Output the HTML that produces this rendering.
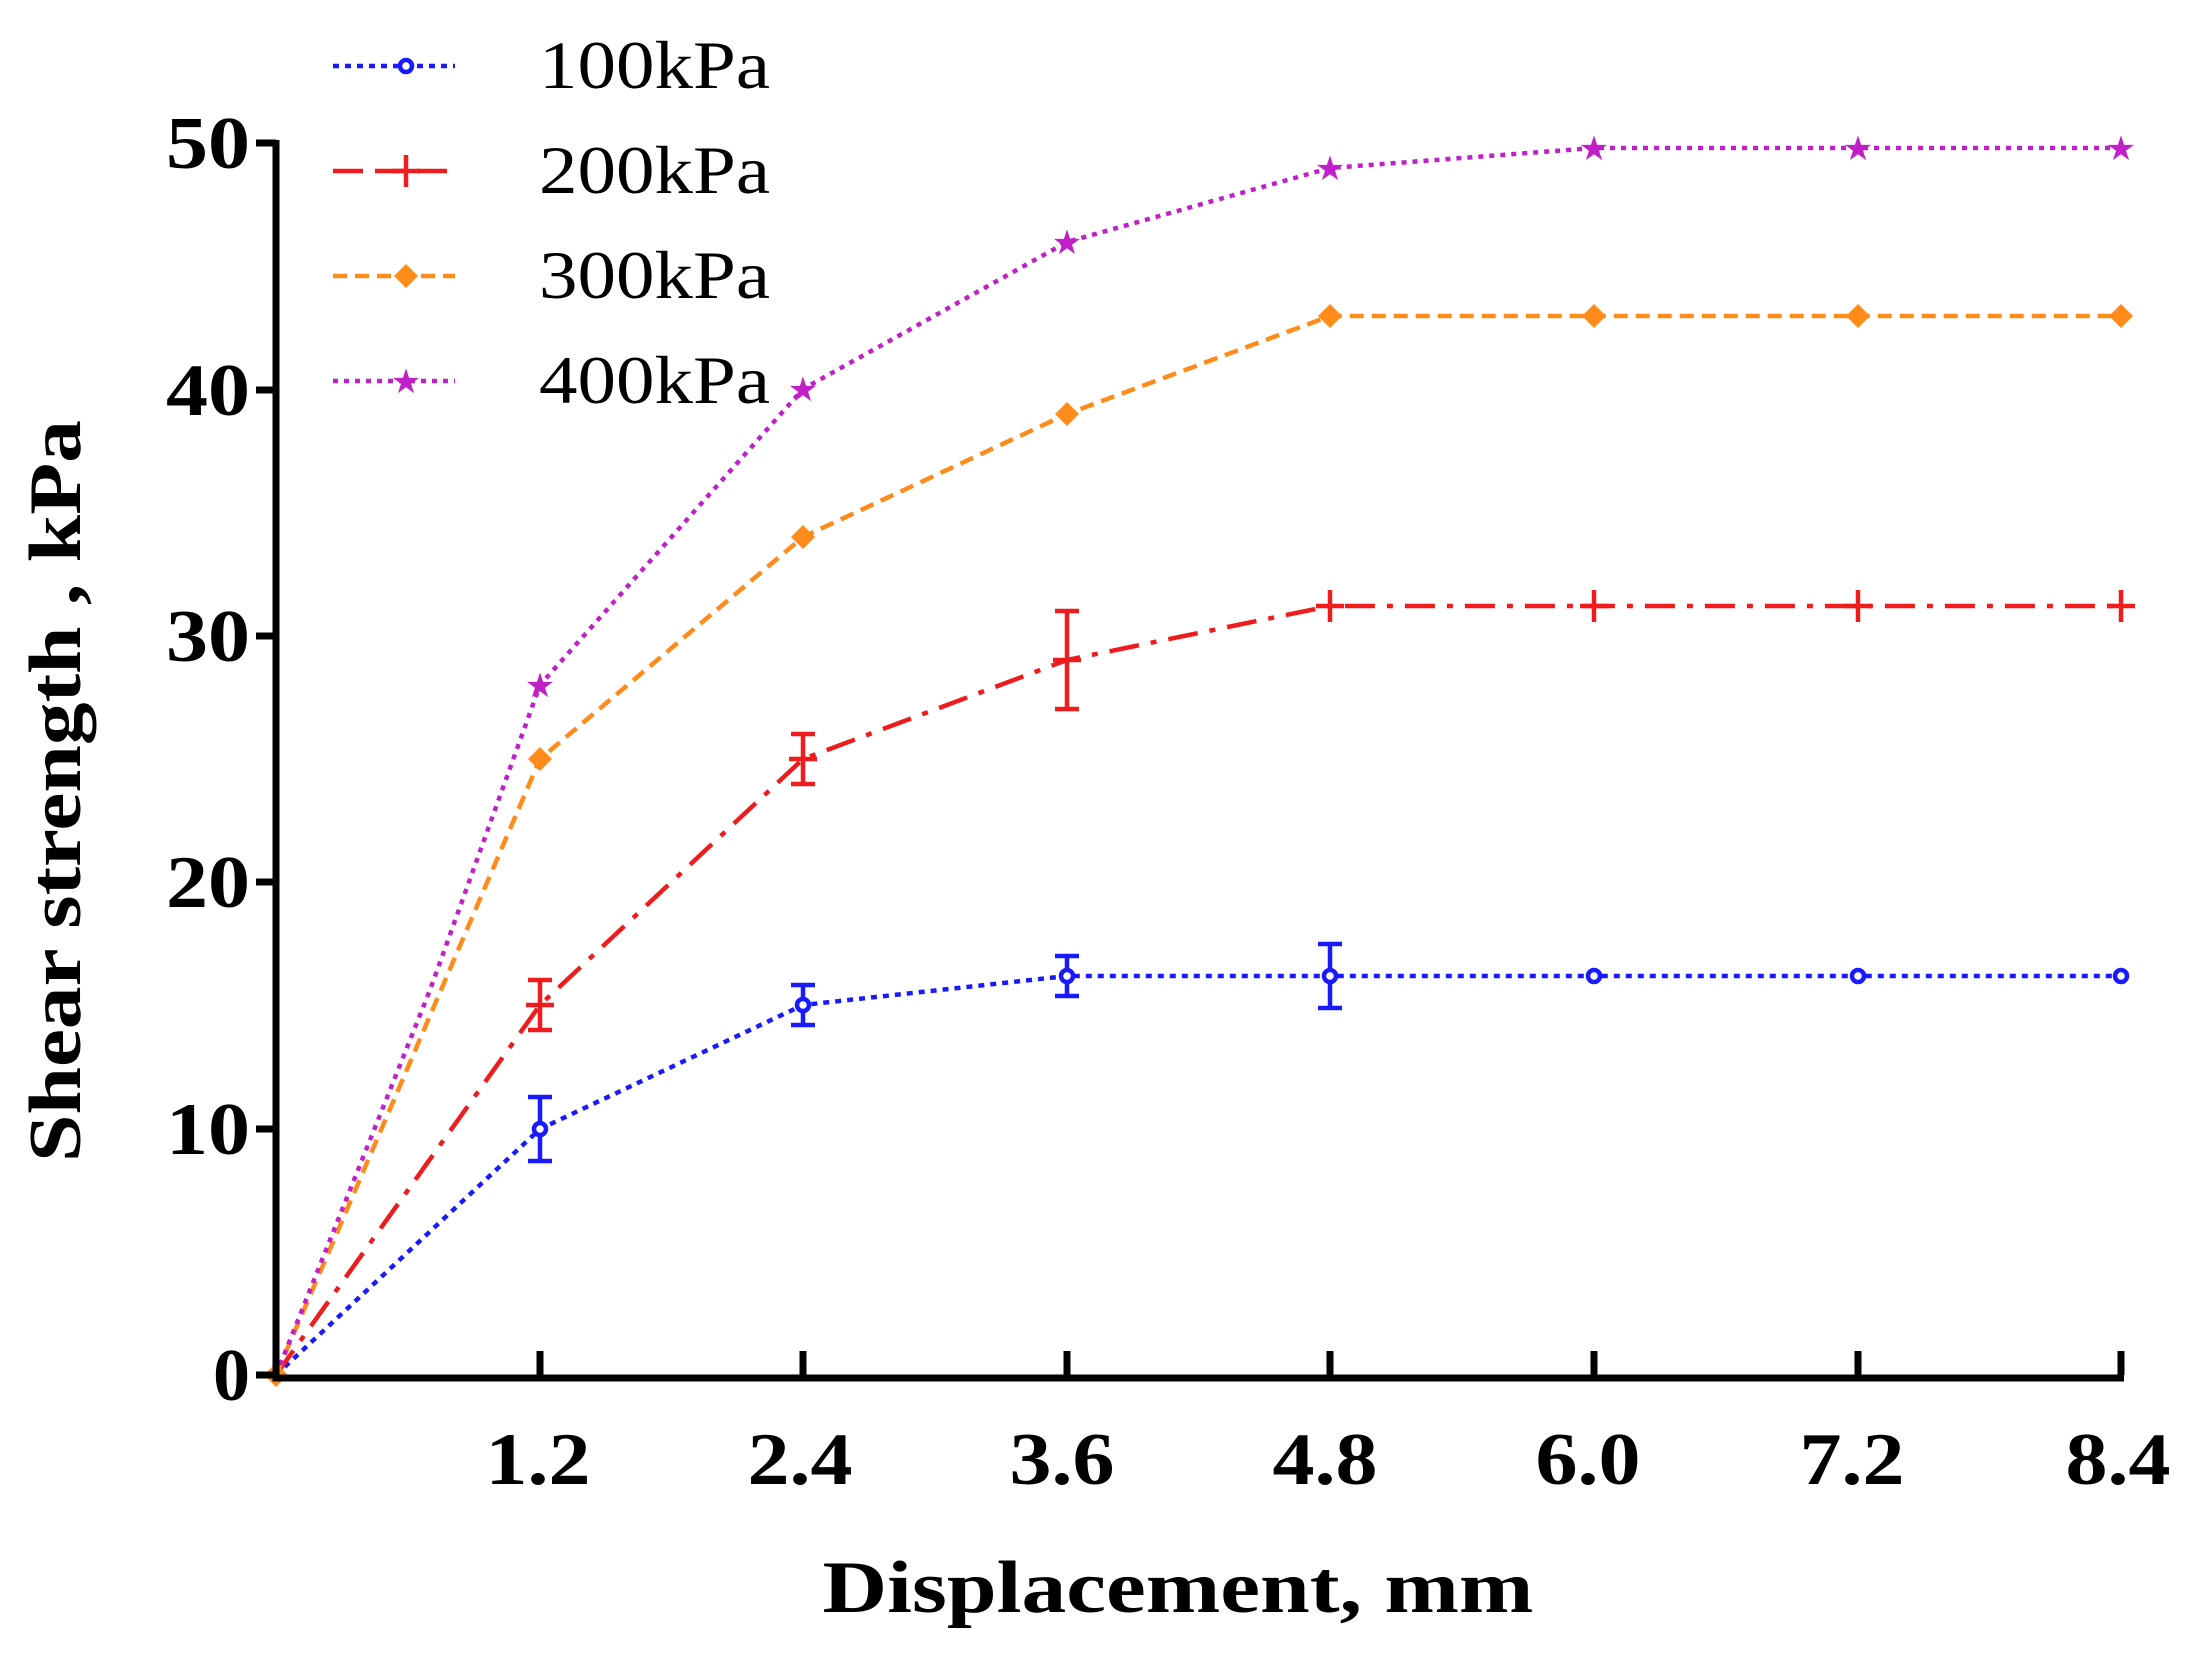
<!DOCTYPE html>
<html><head><style>body{margin:0;background:#fff}svg{display:block}</style></head><body>
<svg width="2196" height="1656" xmlns="http://www.w3.org/2000/svg" font-family="Liberation Serif, serif">
<rect width="2196" height="1656" fill="#fff"/>
<g stroke="#1a1aff" stroke-width="4.5" fill="none">
<polyline stroke-dasharray="6,6" points="276,1375 540,1129 803,1005 1067,976 1330,976 1594,976 1858,976 2121,976"/>
<path d="M540,1097V1161M528,1097h24M528,1161h24M803,985V1025M791,985h24M791,1025h24M1067,956V996M1055,956h24M1055,996h24M1330,944V1008M1318,944h24M1318,1008h24"/>
<g fill="#fff"><circle cx="540" cy="1129" r="6"/><circle cx="803" cy="1005" r="6"/><circle cx="1067" cy="976" r="6"/><circle cx="1330" cy="976" r="6"/><circle cx="1594" cy="976" r="6"/><circle cx="1858" cy="976" r="6"/><circle cx="2121" cy="976" r="6"/></g>
</g>
<g stroke="#ee1c1c" stroke-width="4.5" fill="none">
<polyline stroke-dasharray="30,12,6,12" points="276,1375 540,1005 803,759 1067,660 1330,606 1594,606 1858,606 2121,606"/>
<path d="M540,980V1030M528,980h24M528,1030h24M526,1005h28M803,734V784M791,734h24M791,784h24M789,759h28M1067,611V709M1055,611h24M1055,709h24M1053,660h28M1330,590V622M1316,606h28M1594,590V622M1580,606h28M1858,590V622M1844,606h28M2121,590V622M2107,606h28"/>
</g>
<g stroke="#ff8c1a" stroke-width="4.5" fill="none">
<polyline stroke-dasharray="14,8" points="276,1375 540,759 803,537 1067,414 1330,316 1594,316 1858,316 2121,316"/>
<g fill="#ff8c1a" stroke="none">
<path d="M540,747l12,12l-12,12l-12,-12z"/><path d="M803,525l12,12l-12,12l-12,-12z"/><path d="M1067,402l12,12l-12,12l-12,-12z"/><path d="M1330,304l12,12l-12,12l-12,-12z"/><path d="M1594,304l12,12l-12,12l-12,-12z"/><path d="M1858,304l12,12l-12,12l-12,-12z"/><path d="M2121,304l12,12l-12,12l-12,-12z"/><path d="M276,1363l12,12l-12,12l-12,-12z"/></g>
</g>
<g stroke="#c020c8" stroke-width="4.5" fill="none">
<polyline stroke-dasharray="5,6" points="276,1375 430,990 540,685 803,389 1067,242 1330,168 1594,148 1858,148 2121,148"/>
<g fill="#c020c8" stroke="none" font-size="34" text-anchor="middle">
<text x="540" y="697">★</text><text x="803" y="401">★</text><text x="1067" y="254">★</text><text x="1330" y="180">★</text><text x="1594" y="160">★</text><text x="1858" y="160">★</text><text x="2121" y="160">★</text></g>
</g>
<g stroke="#000" stroke-width="7" fill="none">
<path d="M276,140V1378H2124"/>
<path d="M276,1375h-20M276,1129h-20M276,882h-20M276,636h-20M276,390h-20M276,143h-20"/>
<path d="M540,1375v-24M803,1375v-24M1067,1375v-24M1330,1375v-24M1594,1375v-24M1858,1375v-24M2121,1375v-24"/>
</g>
<g font-size="74" font-weight="bold" fill="#000" text-anchor="end" lengthAdjust="spacingAndGlyphs">
<text x="250" y="1400">0</text>
<text x="250" y="1154" textLength="84" lengthAdjust="spacingAndGlyphs">10</text>
<text x="250" y="907" textLength="84" lengthAdjust="spacingAndGlyphs">20</text>
<text x="250" y="661" textLength="84" lengthAdjust="spacingAndGlyphs">30</text>
<text x="250" y="415" textLength="84" lengthAdjust="spacingAndGlyphs">40</text>
<text x="250" y="168" textLength="84" lengthAdjust="spacingAndGlyphs">50</text>
</g>
<g font-size="74" font-weight="bold" fill="#000" text-anchor="middle">
<text x="538" y="1484" textLength="105" lengthAdjust="spacingAndGlyphs">1.2</text>
<text x="800" y="1484" textLength="105" lengthAdjust="spacingAndGlyphs">2.4</text>
<text x="1062" y="1484" textLength="105" lengthAdjust="spacingAndGlyphs">3.6</text>
<text x="1325" y="1484" textLength="105" lengthAdjust="spacingAndGlyphs">4.8</text>
<text x="1588" y="1484" textLength="105" lengthAdjust="spacingAndGlyphs">6.0</text>
<text x="1852" y="1484" textLength="105" lengthAdjust="spacingAndGlyphs">7.2</text>
<text x="2118" y="1484" textLength="105" lengthAdjust="spacingAndGlyphs">8.4</text>
<text x="1178" y="1612" textLength="711" lengthAdjust="spacingAndGlyphs">Displacement, mm</text>
<text transform="translate(80,791) rotate(-90)" textLength="742" lengthAdjust="spacingAndGlyphs">Shear strength , kPa</text>
</g>
<g stroke-width="4.5" fill="none">
<path d="M333,66H455" stroke="#1a1aff" stroke-dasharray="6,6"/><circle cx="406" cy="66" r="6" stroke="#1a1aff" fill="#fff"/>
<path d="M333,171H455" stroke="#ee1c1c" stroke-dasharray="30,12"/><path d="M406,155V187M392,171h28" stroke="#ee1c1c"/>
<path d="M333,276H455" stroke="#ff8c1a" stroke-dasharray="14,8"/><path d="M406,264l12,12l-12,12l-12,-12z" fill="#ff8c1a" stroke="none"/>
<path d="M333,381H455" stroke="#c020c8" stroke-dasharray="5,6"/><text x="406" y="393" font-size="34" text-anchor="middle" fill="#c020c8" stroke="none">★</text>
</g>
<g font-size="68" fill="#000">
<text x="539" y="88" textLength="231" lengthAdjust="spacingAndGlyphs">100kPa</text>
<text x="539" y="193" textLength="231" lengthAdjust="spacingAndGlyphs">200kPa</text>
<text x="539" y="298" textLength="231" lengthAdjust="spacingAndGlyphs">300kPa</text>
<text x="539" y="403" textLength="231" lengthAdjust="spacingAndGlyphs">400kPa</text>
</g>
</svg>
</body></html>
